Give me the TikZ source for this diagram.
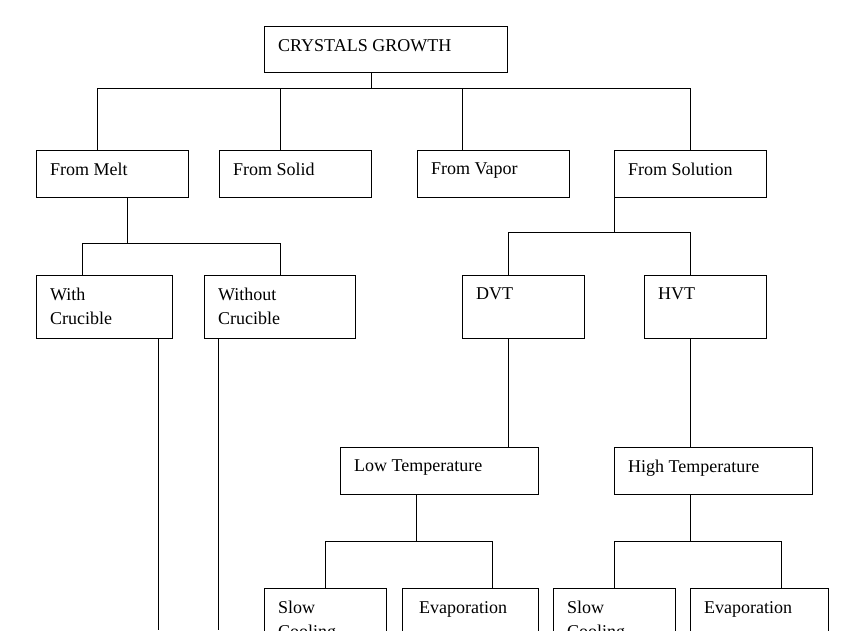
\documentclass[tikz,border=0pt]{standalone}
\usepackage{fontspec}
\setmainfont{Liberation Serif}
\usetikzlibrary{calc}
\begin{document}
\begin{tikzpicture}[x=1pt,y=-1pt,
  box/.style={draw,line width=1pt,anchor=north west,inner sep=0,outer sep=0},
  txt/.style={anchor=north west,inner sep=0,align=left,font=\fontsize{18}{24}\selectfont},
  ln/.style={line width=1pt}]
\useasboundingbox (0,0) rectangle (854,630);
\clip (0,0) rectangle (854,630);
\newcommand\bx[7][14]{\node[box,minimum width=#5,minimum height=#6] (#2) at (#3,#4) {};
  \node[txt] at ($(#2.north west)+(#1,13)$) {#7};}
\bx{cg}{264}{26}{243}{46}{CRYSTALS GROWTH}
\bx{fm}{36}{150}{152}{47}{From Melt}
\bx{fs}{219}{150}{152}{47}{From Solid}
\bx{fv}{417}{150}{152}{47}{From Vapor}
\bx{fsol}{614}{150}{152}{47}{From Solution}
\bx{wc}{36}{275}{136}{63}{With\\Crucible}
\bx{woc}{204}{275}{151}{63}{Without\\Crucible}
\bx{dvt}{462}{275}{122}{63}{DVT}
\bx{hvt}{644}{275}{122}{63}{HVT}
\bx{lt}{340}{447}{198}{47}{Low Temperature}
\bx{ht}{614}{447}{198}{47}{High Temperature}
\bx{sc1}{264}{588}{122}{80}{Slow\\Cooling}
\bx[17]{ev1}{402}{588}{136}{80}{Evaporation}
\bx{sc2}{553}{588}{122}{80}{Slow\\Cooling}
\bx[14]{ev2}{690}{588}{138}{80}{Evaporation}
\coordinate (b1) at (371,88);
\draw[ln] (cg.south -| b1) -- (b1);
\draw[ln] (fm.north -| 97,0) -- (97,88) -- (690,88) -- (fsol.north -| 690,0);
\draw[ln] (280,88) -- (fs.north -| 280,0);
\draw[ln] (462,88) -- (fv.north -| 462,0);
\draw[ln] (fm.south -| 127,0) -- (127,243);
\draw[ln] (wc.north -| 82,0) -- (82,243) -- (280,243) -- (woc.north -| 280,0);
\draw[ln] (wc.south -| 158,0) -- (158,630);
\draw[ln] (woc.south -| 218,0) -- (218,630);
\draw[ln] (fsol.south -| 614,0) -- (614,232);
\draw[ln] (dvt.north -| 508,0) -- (508,232) -- (690,232) -- (hvt.north -| 690,0);
\draw[ln] (dvt.south -| 508,0) -- (lt.north -| 508,0);
\draw[ln] (hvt.south -| 690,0) -- (ht.north -| 690,0);
\draw[ln] (lt.south -| 416,0) -- (416,541);
\draw[ln] (sc1.north -| 325,0) -- (325,541) -- (492,541) -- (ev1.north -| 492,0);
\draw[ln] (ht.south -| 690,0) -- (690,541);
\draw[ln] (sc2.north -| 614,0) -- (614,541) -- (781,541) -- (ev2.north -| 781,0);
\end{tikzpicture}
\end{document}
